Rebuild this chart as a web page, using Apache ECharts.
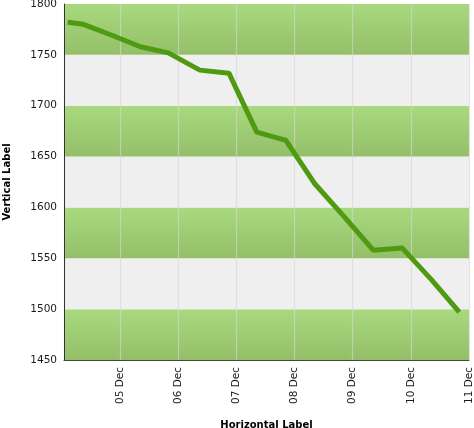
<!DOCTYPE html>
<html>
<head>
<meta charset="utf-8">
<script src="https://cdn.jsdelivr.net/npm/echarts@6/dist/echarts.min.js"></script>
<style>
  html, body { margin: 0; padding: 0; background: #fff; }
  #chart { width: 474px; height: 428px; }
</style>
</head>
<body>
<div id="chart"></div>
<script>
// readings, times in UTC
const times = [
  '2016-12-04 02:30', '2016-12-04 09:00', '2016-12-04 21:00',
  '2016-12-05 08:30', '2016-12-05 20:00', '2016-12-06 09:00',
  '2016-12-06 21:00', '2016-12-07 08:30', '2016-12-07 20:30',
  '2016-12-08 08:30', '2016-12-08 20:30', '2016-12-09 08:30',
  '2016-12-09 20:30', '2016-12-10 08:30', '2016-12-10 20:00'
]
const values = [1782, 1780, 1769, 1758, 1752, 1735, 1732, 1674, 1666, 1623, 1591, 1558, 1560, 1529, 1497]
const xRange = ['2016-12-04 01:00', '2016-12-11 00:00']
const yRange = [1450, 1800]

const DAY = 24 * 3600 * 1000
function utc(s) {
  return Date.parse(s.replace(' ', 'T') + ':00Z')
}

const seriesData = times.map((t, i) => [utc(t), values[i]])

const bandGreen = new echarts.graphic.LinearGradient(0, 0, 0, 1, [
  {offset: 0, color: '#a9d97f'},
  {offset: 1, color: '#93bf69'}
])

let myChart = echarts.init(document.getElementById('chart'))
myChart.setOption({
  animation: false,
  useUTC: true,
  grid: {left: 64, right: 5, top: 4, bottom: 68, containLabel: false, outerBoundsMode: 'none'},
  xAxis: {
    type: 'time',
    min: utc(xRange[0]),
    max: utc(xRange[1]),
    minInterval: DAY,
    maxInterval: DAY,
    name: 'Horizontal Label',
    nameLocation: 'middle',
    nameGap: 60,
    nameTextStyle: {fontFamily: 'DejaVu Sans', fontSize: 10, fontWeight: 'bold', color: '#000'},
    axisLine: {lineStyle: {color: '#3f4d30', width: 1}},
    axisTick: {show: false},
    axisLabel: {
      rotate: 90,
      margin: 7,
      showMinLabel: false,
      showMaxLabel: true,
      hideOverlap: false,
      fontFamily: 'DejaVu Sans',
      fontSize: 10.5,
      color: '#1a1a1a',
      formatter: function (val) {
        let d = new Date(val)
        if (d.getUTCHours() !== 0 || d.getUTCMinutes() !== 0) return ''
        return String(d.getUTCDate()).padStart(2, '0') + ' Dec'
      }
    },
    splitLine: {show: true, lineStyle: {color: '#d6d6d6', opacity: 0.65, width: 1.2}}
  },
  yAxis: {
    type: 'value',
    min: yRange[0],
    max: yRange[1],
    interval: 50,
    name: 'Vertical Label',
    nameLocation: 'middle',
    nameGap: 52,
    nameTextStyle: {fontFamily: 'DejaVu Sans', fontSize: 10, fontWeight: 'bold', color: '#000'},
    axisLine: {show: true, lineStyle: {color: '#333', width: 1}},
    axisTick: {show: false},
    axisLabel: {
      margin: 7,
      fontFamily: 'DejaVu Sans',
      fontSize: 10.5,
      color: '#1a1a1a',
      formatter: v => String(v)
    },
    splitLine: {show: false},
    splitArea: {show: true, areaStyle: {color: [bandGreen, '#efefef']}}
  },
  series: [
    {
      type: 'line',
      data: seriesData,
      showSymbol: false,
      symbol: 'none',
      lineStyle: {color: '#4f9a10', width: 5},
      z: 5
    }
  ]
})
</script>
</body>
</html>
